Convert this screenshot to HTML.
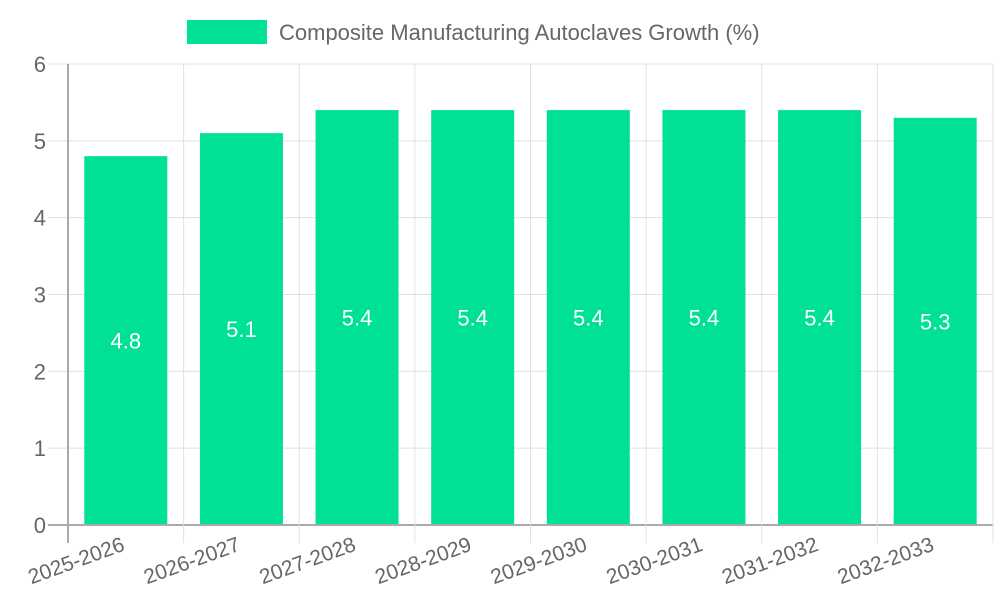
<!DOCTYPE html>
<html><head><meta charset="utf-8"><style>
body{margin:0;background:#fff;}
svg text{font-family:"Liberation Sans",sans-serif;}
</style></head><body>
<svg width="1000" height="600">
<g id="legend">
<rect x="187" y="20" width="80" height="24" fill="#00e096"/>
<text x="279" y="40" font-size="22" fill="#666">Composite Manufacturing Autoclaves Growth (%)</text>
</g>
<g id="grid"></g><g id="bars"></g><g id="axes"></g>
</svg>
<script>
const categories=["2025-2026","2026-2027","2027-2028","2028-2029","2029-2030","2030-2031","2031-2032","2032-2033"];
const values=[4.8,5.1,5.4,5.4,5.4,5.4,5.4,5.3];
const yTicks=[0,1,2,3,4,5,6];
const NS="http://www.w3.org/2000/svg";
const L=68,R=993,T=64,B=525,yMax=6;
const band=(R-L)/categories.length;
const x=i=>L+band*i;
const y=v=>B-(v/yMax)*(B-T);
function mk(tag,attrs,parent){const e=document.createElementNS(NS,tag);for(const k in attrs)e.setAttribute(k,attrs[k]);document.getElementById(parent).appendChild(e);return e;}
yTicks.forEach(t=>{
 const g=mk("line",{x1:L-20,x2:R,y1:y(t),y2:y(t),stroke:t===0?"#aaa":"#e0e0e0","stroke-width":t===0?2:1},"grid");
 
 
 const tx=mk("text",{x:L-22,y:y(t)+8,"text-anchor":"end","font-size":22,fill:"#666"},"axes");
 tx.textContent=t;
 
 
});
for(let i=0;i<=categories.length;i++){
 const g=mk("line",{x1:x(i),x2:x(i),y1:T,y2:B+18,stroke:i===0?"#aaa":"#e0e0e0","stroke-width":i===0?2:1},"grid");
 
 
}
categories.forEach((c,i)=>{
 const cx=x(i)+band/2,bw=83;
 const r=mk("rect",{x:cx-bw/2,y:y(values[i]),width:bw,height:B-1-y(values[i]),fill:"#00e096"},"bars");
 
 
 const v=mk("text",{x:cx,y:(y(values[i])+B)/2+8,"text-anchor":"middle","font-size":22,fill:"#fff"},"bars");
 v.textContent=values[i];
 
 
 const lb=mk("text",{x:cx,y:550,"text-anchor":"end","font-size":21,fill:"#666",transform:`rotate(-20 ${cx} 550)`},"axes");
 lb.textContent=c;
 
 
});
</script>
</body></html>
